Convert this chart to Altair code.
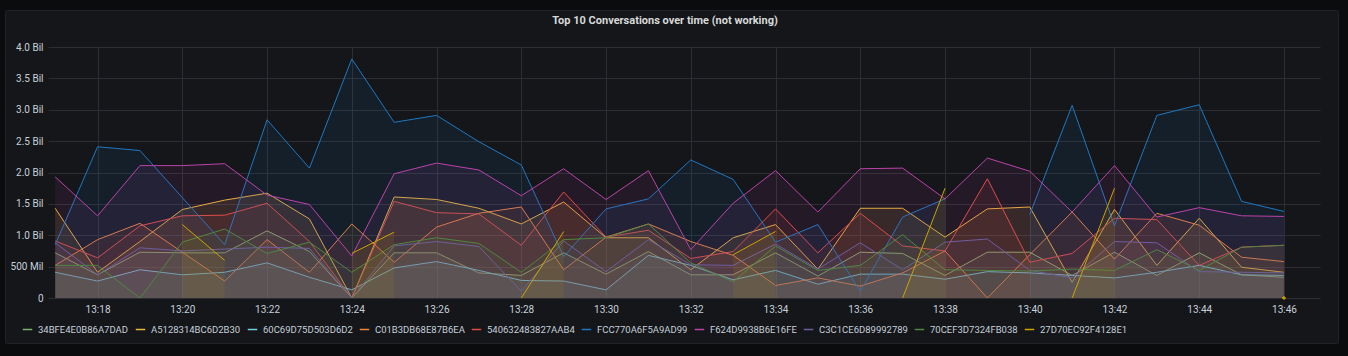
import altair as alt
import pandas as pd
import numpy as np

times = ["13:17", "13:18", "13:19", "13:20", "13:21", "13:22", "13:23", "13:24", "13:25", "13:26",
         "13:27", "13:28", "13:29", "13:30", "13:31", "13:32", "13:33", "13:34", "13:35", "13:36",
         "13:37", "13:38", "13:39", "13:40", "13:41", "13:42", "13:43", "13:44", "13:45", "13:46"]

series_names = ["34BFE4E0B86A7DAD", "A5128314BC6D2B30", "60C69D75D503D6D2", "C01B3DB68E87B6EA",
                "540632483827AAB4", "FCC770A6F5A9AD99", "F624D9938B6E16FE", "C3C1CE6D89992789",
                "70CEF3D7324FB038", "27D70EC92F4128E1"]
series_colors = ["#7EB26D", "#EAB839", "#6ED0E0", "#EF843C", "#E24D42",
                 "#1F78C1", "#BA43A9", "#705DA0", "#508642", "#CCA300"]

# values in billions
s_34BF = [0.72, 0.37, 0.73, 0.72, 0.72, 1.07, 0.74, 0.0, 0.72, 0.72, 0.40, 0.36, 0.72, 0.38, 0.74,
          0.37, 0.37, 0.72, 0.35, 0.73, 0.71, 0.36, 0.73, 0.73, 0.36, 0.73, 0.36, 0.72, 0.37, 0.33]
s_A512 = [1.43, 0.41, 0.90, 1.41, 1.56, 1.67, 1.26, 0.0, 1.61, 1.57, 1.43, 1.18, 1.53, 0.96, 0.96,
          0.45, 0.96, 1.17, 0.46, 1.43, 1.43, 0.97, 1.42, 1.45, 0.25, 1.41, 0.52, 1.27, 0.49, 0.41]
s_60C6 = [0.41, 0.27, 0.45, 0.37, 0.41, 0.56, 0.33, 0.13, 0.48, 0.58, 0.44, 0.28, 0.27, 0.13, 0.68,
          0.52, 0.29, 0.44, 0.22, 0.38, 0.38, 0.30, 0.42, 0.40, 0.36, 0.32, 0.41, 0.52, 0.37, 0.36]
s_C01B = [0.52, 0.93, 1.19, 0.73, 0.27, 0.93, 0.41, 1.18, 0.57, 1.13, 1.35, 1.45, 0.45, 0.97, 1.18,
          0.90, 0.68, 0.20, 0.32, 0.19, 0.40, 0.75, 0.0, 0.69, 1.37, 0.62, 1.35, 1.16, 0.65, 0.58]
s_5406 = [0.91, 0.64, 1.15, 1.31, 1.32, 1.51, 0.90, 0.0, 1.54, 1.36, 1.34, 0.84, 1.69, 0.97, 1.08,
          0.63, 0.74, 1.42, 0.72, 1.35, 0.83, 0.75, 1.90, 0.57, 0.71, 1.27, 1.25, 0.52, 0.81, 0.84]
s_FCC7 = [0.85, 2.41, 2.35, 1.60, 0.85, 2.84, 2.07, 3.81, 2.80, 2.91, 2.49, 2.12, 0.66, 1.42, 1.58,
          2.20, 1.89, 0.89, 1.17, 0.11, 1.29, 1.58, None, 1.33, 3.07, 1.15, 2.91, 3.08, 1.54, 1.38]
s_F624 = [1.93, 1.31, 2.11, 2.11, 2.14, 1.64, 1.49, 0.67, 1.98, 2.15, 2.04, 1.63, 2.06, 1.57, 2.03,
          0.77, 1.51, 2.03, 1.37, 2.06, 2.07, 1.58, 2.23, 2.02, 1.37, 2.11, 1.29, 1.44, 1.31, 1.30]
s_C3C1 = [0.88, 0.37, 0.80, 0.75, 0.78, 0.81, 0.79, 0.0, 0.83, 0.90, 0.82, 0.11, 0.91, 0.42, 0.93,
          0.53, 0.52, 0.86, 0.46, 0.88, 0.45, 0.89, 0.94, 0.44, 0.32, 0.90, 0.88, 0.42, 0.41, 0.40]
s_70CE = [0.52, 0.52, 0.0, 0.89, 1.10, 0.71, 0.89, 0.41, 0.85, 0.96, 0.87, 0.41, 0.93, 0.96, 1.18,
          0.56, 0.26, 0.83, 0.44, 0.52, 1.01, 0.45, 0.44, 0.43, 0.46, 0.44, 0.77, 0.44, 0.81, 0.84]
s_27D7 = [None, None, None, 1.17, 0.60, None, None, 0.71, 1.05, None, None, 0.0, 1.06, None, None,
          None, 0.69, 1.06, None, None, 0.0, 1.75, None, None, 0.0, 1.75, None, None, None, 0.0]

series_values = [s_34BF, s_A512, s_60C6, s_C01B, s_5406, s_FCC7, s_F624, s_C3C1, s_70CE, s_27D7]

x_ticks = list(range(18, 47, 2))
y_ticks = [0, 0.5, 1.0, 1.5, 2.0, 2.5, 3.0, 3.5, 4.0]
title_text = "Top 10 Conversations over time (not working)"

rows = []
for name, vals in zip(series_names, series_values):
    for t, v in zip(times, vals):
        rows.append({"series": name, "minute": int(t.split(":")[1]), "time": t,
                     "value": (np.nan if v is None else v)})
df = pd.DataFrame(rows)

x_enc = alt.X("minute:Q",
              scale=alt.Scale(domain=[16.83, 46.85], nice=False, zero=False),
              axis=alt.Axis(values=x_ticks, labelExpr="'13:' + format(datum.value, '02d')",
                            title=None, grid=True, domain=False, ticks=False,
                            labelPadding=6, labelFlush=False))
y_enc = alt.Y("value:Q",
              scale=alt.Scale(domain=[0, 4], nice=False),
              axis=alt.Axis(values=y_ticks,
                            labelExpr="datum.value == 0 ? '0' : (datum.value < 1 ? format(datum.value * 1000, 'd') + ' Mil' : format(datum.value, '.1f') + ' Bil')",
                            title=None, grid=True, domain=False, ticks=False,
                            labelPadding=5))

color_enc = alt.Color("series:N",
                      scale=alt.Scale(domain=series_names, range=series_colors),
                      legend=alt.Legend(orient="none", legendX=-26, legendY=277,
                                        direction="horizontal", columns=10,
                                        symbolType="stroke", symbolSize=90,
                                        symbolStrokeWidth=1.5, labelFontSize=9.5,
                                        labelColor="#c7d0d9", title=None,
                                        columnPadding=3, labelOffset=5, padding=0))

base = alt.Chart(df)
one = alt.Data(values=[{"p": 1}])

layers = []
for name, col in zip(series_names, series_colors):
    sub = base.transform_filter(alt.datum.series == name)
    layers.append(sub.mark_area(color=col, fillOpacity=0.1).encode(x=x_enc, y=y_enc))
    layers.append(sub.mark_line(strokeWidth=1).encode(x=x_enc, y=y_enc, color=color_enc))

last_point = base.transform_filter(
    (alt.datum.series == series_names[-1]) & (alt.datum.minute == 46)
).mark_point(shape="cross", size=14, filled=True, color=series_colors[-1], opacity=1).encode(
    x=x_enc, y=y_enc)
layers.append(last_point)

# dark page margin around the panel and the panel border
outer = alt.Chart(one).mark_rect(fill=None, fillOpacity=0, stroke="#0b0c0e", strokeWidth=20).encode(
    x=alt.value(-53), x2=alt.value(1301), y=alt.value(-47), y2=alt.value(307))
border = alt.Chart(one).mark_rect(fill=None, fillOpacity=0, stroke="#202226", strokeWidth=1,
                                  cornerRadius=3).encode(
    x=alt.value(-42.5), x2=alt.value(1290.5), y=alt.value(-36.5), y2=alt.value(296.5))
title = alt.Chart(one).mark_text(text=title_text, fontSize=11, fontWeight="bold",
                                 color="#d8d9da", align="center", baseline="middle").encode(
    x=alt.value(617), y=alt.value(-26))
layers += [outer, border, title]

chart = alt.layer(*layers).properties(
    width=1272, height=251,
    padding={"left": 48, "top": 47, "right": 28, "bottom": 58},
    autosize=alt.AutoSizeParams(type="none"),
    background="#141619",
).configure(font="Roboto").configure_view(strokeWidth=0).configure_axis(
    labelColor="#c7d0d9", labelFontSize=10, gridColor="#2c2e33", gridWidth=1, gridOpacity=1
)

chart.save("out.html", embed_options={"renderer": "svg", "actions": False})
